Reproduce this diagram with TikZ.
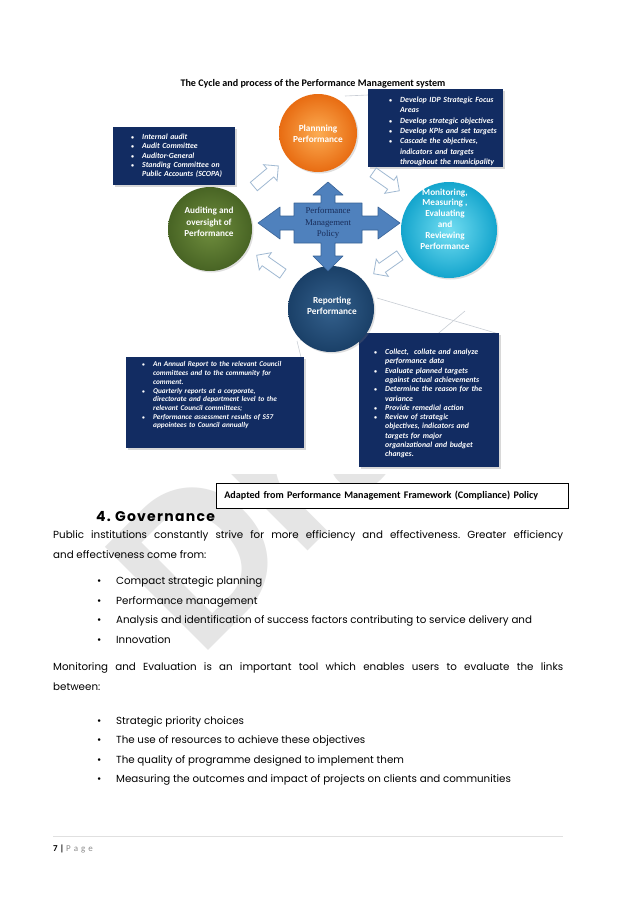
\documentclass[tikz,border=0pt]{standalone}
\usepackage{fontspec}
\usepackage{graphicx}
\setmainfont{Carlito}
\newfontfamily\bodyfont{Poppins}
\newfontfamily\headfont[LetterSpace=9]{Poppins}
\newfontfamily\polfont{Liberation Serif}
\usetikzlibrary{shapes.arrows,shadows}
\definecolor{navybox}{RGB}{18,44,98}
\definecolor{crossblue}{RGB}{79,129,189}
\definecolor{crossedge}{RGB}{56,98,150}
\definecolor{arrowedge}{RGB}{160,185,210}
\definecolor{poltext}{RGB}{25,45,90}
\definecolor{tailgray}{RGB}{200,205,212}
\newcommand\bit[1]{\par\hangindent=11pt\hangafter=1\noindent\makebox[11pt][l]{\scalebox{0.75}{\textbullet}}#1}
\frenchspacing
\begin{document}
\begin{tikzpicture}[x=1pt,y=-1pt,
  navy/.style={fill=navybox, draw=none, inner sep=0pt, anchor=north west,
    drop shadow={opacity=0.3,shadow xshift=2pt,shadow yshift=-2pt}},
  boxtext/.style={text=white, align=left, inner sep=0pt, anchor=north west},
  circ/.style={circle, inner sep=0pt, draw=none,
    drop shadow={opacity=0.25,shadow xshift=1.5pt,shadow yshift=-1.5pt}},
  circtext/.style={text=white, align=center, inner sep=0pt, font=\bfseries\fontsize{9.3}{11}\selectfont},
  hollow/.style={single arrow, draw=arrowedge, fill=white, line width=0.8pt,
    minimum height=32pt, minimum width=21pt, inner sep=5pt, single arrow head extend=5pt},
  bodytxt/.style={anchor=base west, inner sep=0pt, font=\bodyfont\fontsize{10.3}{12}\selectfont},
  tail/.style={draw=tailgray, line width=0.6pt}
]
\useasboundingbox (0,0) rectangle (638,903);
\fill[white] (0,0) rectangle (638,903);

% watermark (only visible below the diagram)
\begin{scope}
\clip (0,474) rectangle (638,903);
\node[rotate=45, text=black!10, inner sep=0pt,
  font=\bfseries\fontsize{225}{225}\selectfont] (wm) at (311,439) {Draft};
\end{scope}

% title
\node[inner sep=0pt, font=\bfseries\fontsize{10.1}{12}\selectfont] (title) at (313,84)
  {The Cycle and process of the Performance Management system};

% callout tails
\draw[tail] (345,96) -- (368,95);
\draw[tail] (377,298) -- (499,334);
\draw[tail] (428,342) -- (465,311);
\draw[tail] (297,341) -- (301,357);
\draw[tail] (300,340) -- (322,344);

% boxes
\node[navy, minimum width=135pt, minimum height=78pt] (tr) at (368,89) {};
\node[boxtext, text width=112pt, font=\bfseries\itshape\fontsize{7.9}{10.3}\selectfont] (trt) at (389,92)
  {\bit{Develop IDP Strategic Focus\newline Areas}\bit{Develop strategic objectives}\bit{Develop KPIs and set targets}\bit{Cascade the objectives,\newline indicators and targets\newline throughout the municipality}\par};

\node[navy, minimum width=122pt, minimum height=58pt] (tl) at (113,127) {};
\node[boxtext, text width=102pt, font=\bfseries\itshape\fontsize{7.8}{9.3}\selectfont] (tlt) at (131,130)
  {\bit{Internal audit}\bit{Audit Committee}\bit{Auditor-General}\bit{Standing Committee on\newline Public Accounts (SCOPA)}\par};

\node[navy, minimum width=178pt, minimum height=91pt] (bl) at (126,357) {};
\node[boxtext, text width=162pt, font=\bfseries\itshape\fontsize{7.3}{8.7}\selectfont] (blt) at (142,358)
  {\bit{An Annual Report to the relevant Council\newline committees and to the community for\newline comment.}\bit{Quarterly reports at a corporate,\newline directorate and department level to the\newline relevant Council committees;}\bit{Performance assessment results of S57\newline appointees to Council annually}\par};

\node[navy, minimum width=140pt, minimum height=134pt] (br) at (359,333) {};
\node[boxtext, text width=124pt, font=\bfseries\itshape\fontsize{7.8}{9.3}\selectfont] (brt) at (374,345)
  {\bit{Collect,\ \ collate and analyze\newline performance data}\bit{Evaluate planned targets\newline against actual achievements}\bit{Determine the reason for the\newline variance}\bit{Provide remedial action}\bit{Review of strategic\newline objectives, indicators and\newline targets for major\newline organizational and budget\newline changes.}\par};

% hollow cycle arrows
\node[hollow, rotate=40] (a1) at (264,178) {};
\node[hollow, rotate=-35] (a2) at (384,180) {};
\node[hollow, rotate=-145] (a3) at (389,263) {};
\node[hollow, rotate=145] (a4) at (272,266) {};

% circles
\node[circ, minimum size=78pt, inner color={rgb,255:red,252;green,172;blue,82}, outer color={rgb,255:red,232;green,108;blue,18}] (plan) at (318,133) {};
\node[circtext] (plant) at (318,134) {Plannning\\Performance};

\node[circ, minimum size=84pt, inner color={rgb,255:red,112;green,142;blue,62}, outer color={rgb,255:red,72;green,100;blue,36}] (audit) at (210,229) {};
\node[circtext, font=\bfseries\fontsize{9.2}{11.7}\selectfont] (auditt) at (209,222) {Auditing and\\oversight of\\Performance};

\node[circ, minimum size=96pt, inner color={rgb,255:red,115;green,222;blue,242}, outer color={rgb,255:red,20;green,165;blue,205}] (monit) at (449,230) {};
\node[circtext, font=\bfseries\fontsize{9.2}{10.8}\selectfont] (monitt) at (445,219) {Monitoring,\\Measuring ,\\Evaluating\\and\\Reviewing\\Performance};

\node[circ, minimum size=86pt, inner color={rgb,255:red,52;green,96;blue,140}, outer color={rgb,255:red,26;green,64;blue,104}] (report) at (331,309) {};
\node[circtext] (reportt) at (332,306) {Reporting\\Performance};

% central cross
\begin{scope}[shift={(328,223)}]
\filldraw[fill=crossblue, draw=crossedge, line width=0.6pt, line join=round]
 (0,-41) -- (15,-28) -- (7,-28) -- (7,-20) -- (34,-20) -- (34,-7) -- (50,-7) -- (50,-16) -- (72,0)
 -- (50,16) -- (50,7) -- (34,7) -- (34,20) -- (7,20) -- (7,33) -- (15,33) -- (0,48)
 -- (-15,33) -- (-7,33) -- (-7,20) -- (-34,20) -- (-34,7) -- (-48,7) -- (-48,16) -- (-70,0)
 -- (-48,-16) -- (-48,-7) -- (-34,-7) -- (-34,-20) -- (-7,-20) -- (-7,-28) -- (-15,-28) -- cycle;
\end{scope}
\node[inner sep=0pt, align=center, text=poltext, font=\polfont\fontsize{8.8}{11.5}\selectfont] (pol) at (328,223)
  {Performance\\Management\\Policy};

% caption
\node[draw=black, line width=0.7pt, fill=white, anchor=north west, minimum height=25pt,
  text width=336pt, inner xsep=8pt, align=left, font=\bfseries\fontsize{10.1}{11}\selectfont] (cap) at (216,483)
  {Adapted from Performance Management Framework (Compliance) Policy};

% body text
\node[bodytxt, font=\headfont\bfseries\fontsize{14}{15}\selectfont] (h4) at (96,521) {4. Governance};
\node[bodytxt] (l1) at (53,538) {\makebox[510pt][s]{Public institutions constantly strive for more efficiency and effectiveness. Greater efficiency}};
\node[bodytxt] (l2) at (53,558) {and effectiveness come from:};
\node[bodytxt] (b1) at (97,584) {\makebox[19pt][l]{\textbullet}Compact strategic planning};
\node[bodytxt] (b2) at (97,604) {\makebox[19pt][l]{\textbullet}Performance management};
\node[bodytxt] (b3) at (97,623) {\makebox[19pt][l]{\textbullet}Analysis and identification of success factors contributing to service delivery and};
\node[bodytxt] (b4) at (97,643) {\makebox[19pt][l]{\textbullet}Innovation};
\node[bodytxt] (l3) at (53,670) {\makebox[510pt][s]{Monitoring and Evaluation is an important tool which enables users to evaluate the links}};
\node[bodytxt] (l4) at (53,690) {between:};
\node[bodytxt] (c1) at (97,724) {\makebox[19pt][l]{\textbullet}Strategic priority choices};
\node[bodytxt] (c2) at (97,743) {\makebox[19pt][l]{\textbullet}The use of resources to achieve these objectives};
\node[bodytxt] (c3) at (97,763) {\makebox[19pt][l]{\textbullet}The quality of programme designed to implement them};
\node[bodytxt] (c4) at (97,782) {\makebox[19pt][l]{\textbullet}Measuring the outcomes and impact of projects on clients and communities};

% footer
\coordinate (fl) at (53,836);
\coordinate (fr) at (563,836);
\draw[black!12, line width=0.8pt] (fl) -- (fr);
\node[anchor=base west, inner sep=0pt, font=\fontsize{9}{11}\selectfont] (pg) at (53,851)
  {\textbf{7 |} {\color{black!45}P\,\,a\,\,g\,\,e}};
\end{tikzpicture}
\end{document}
